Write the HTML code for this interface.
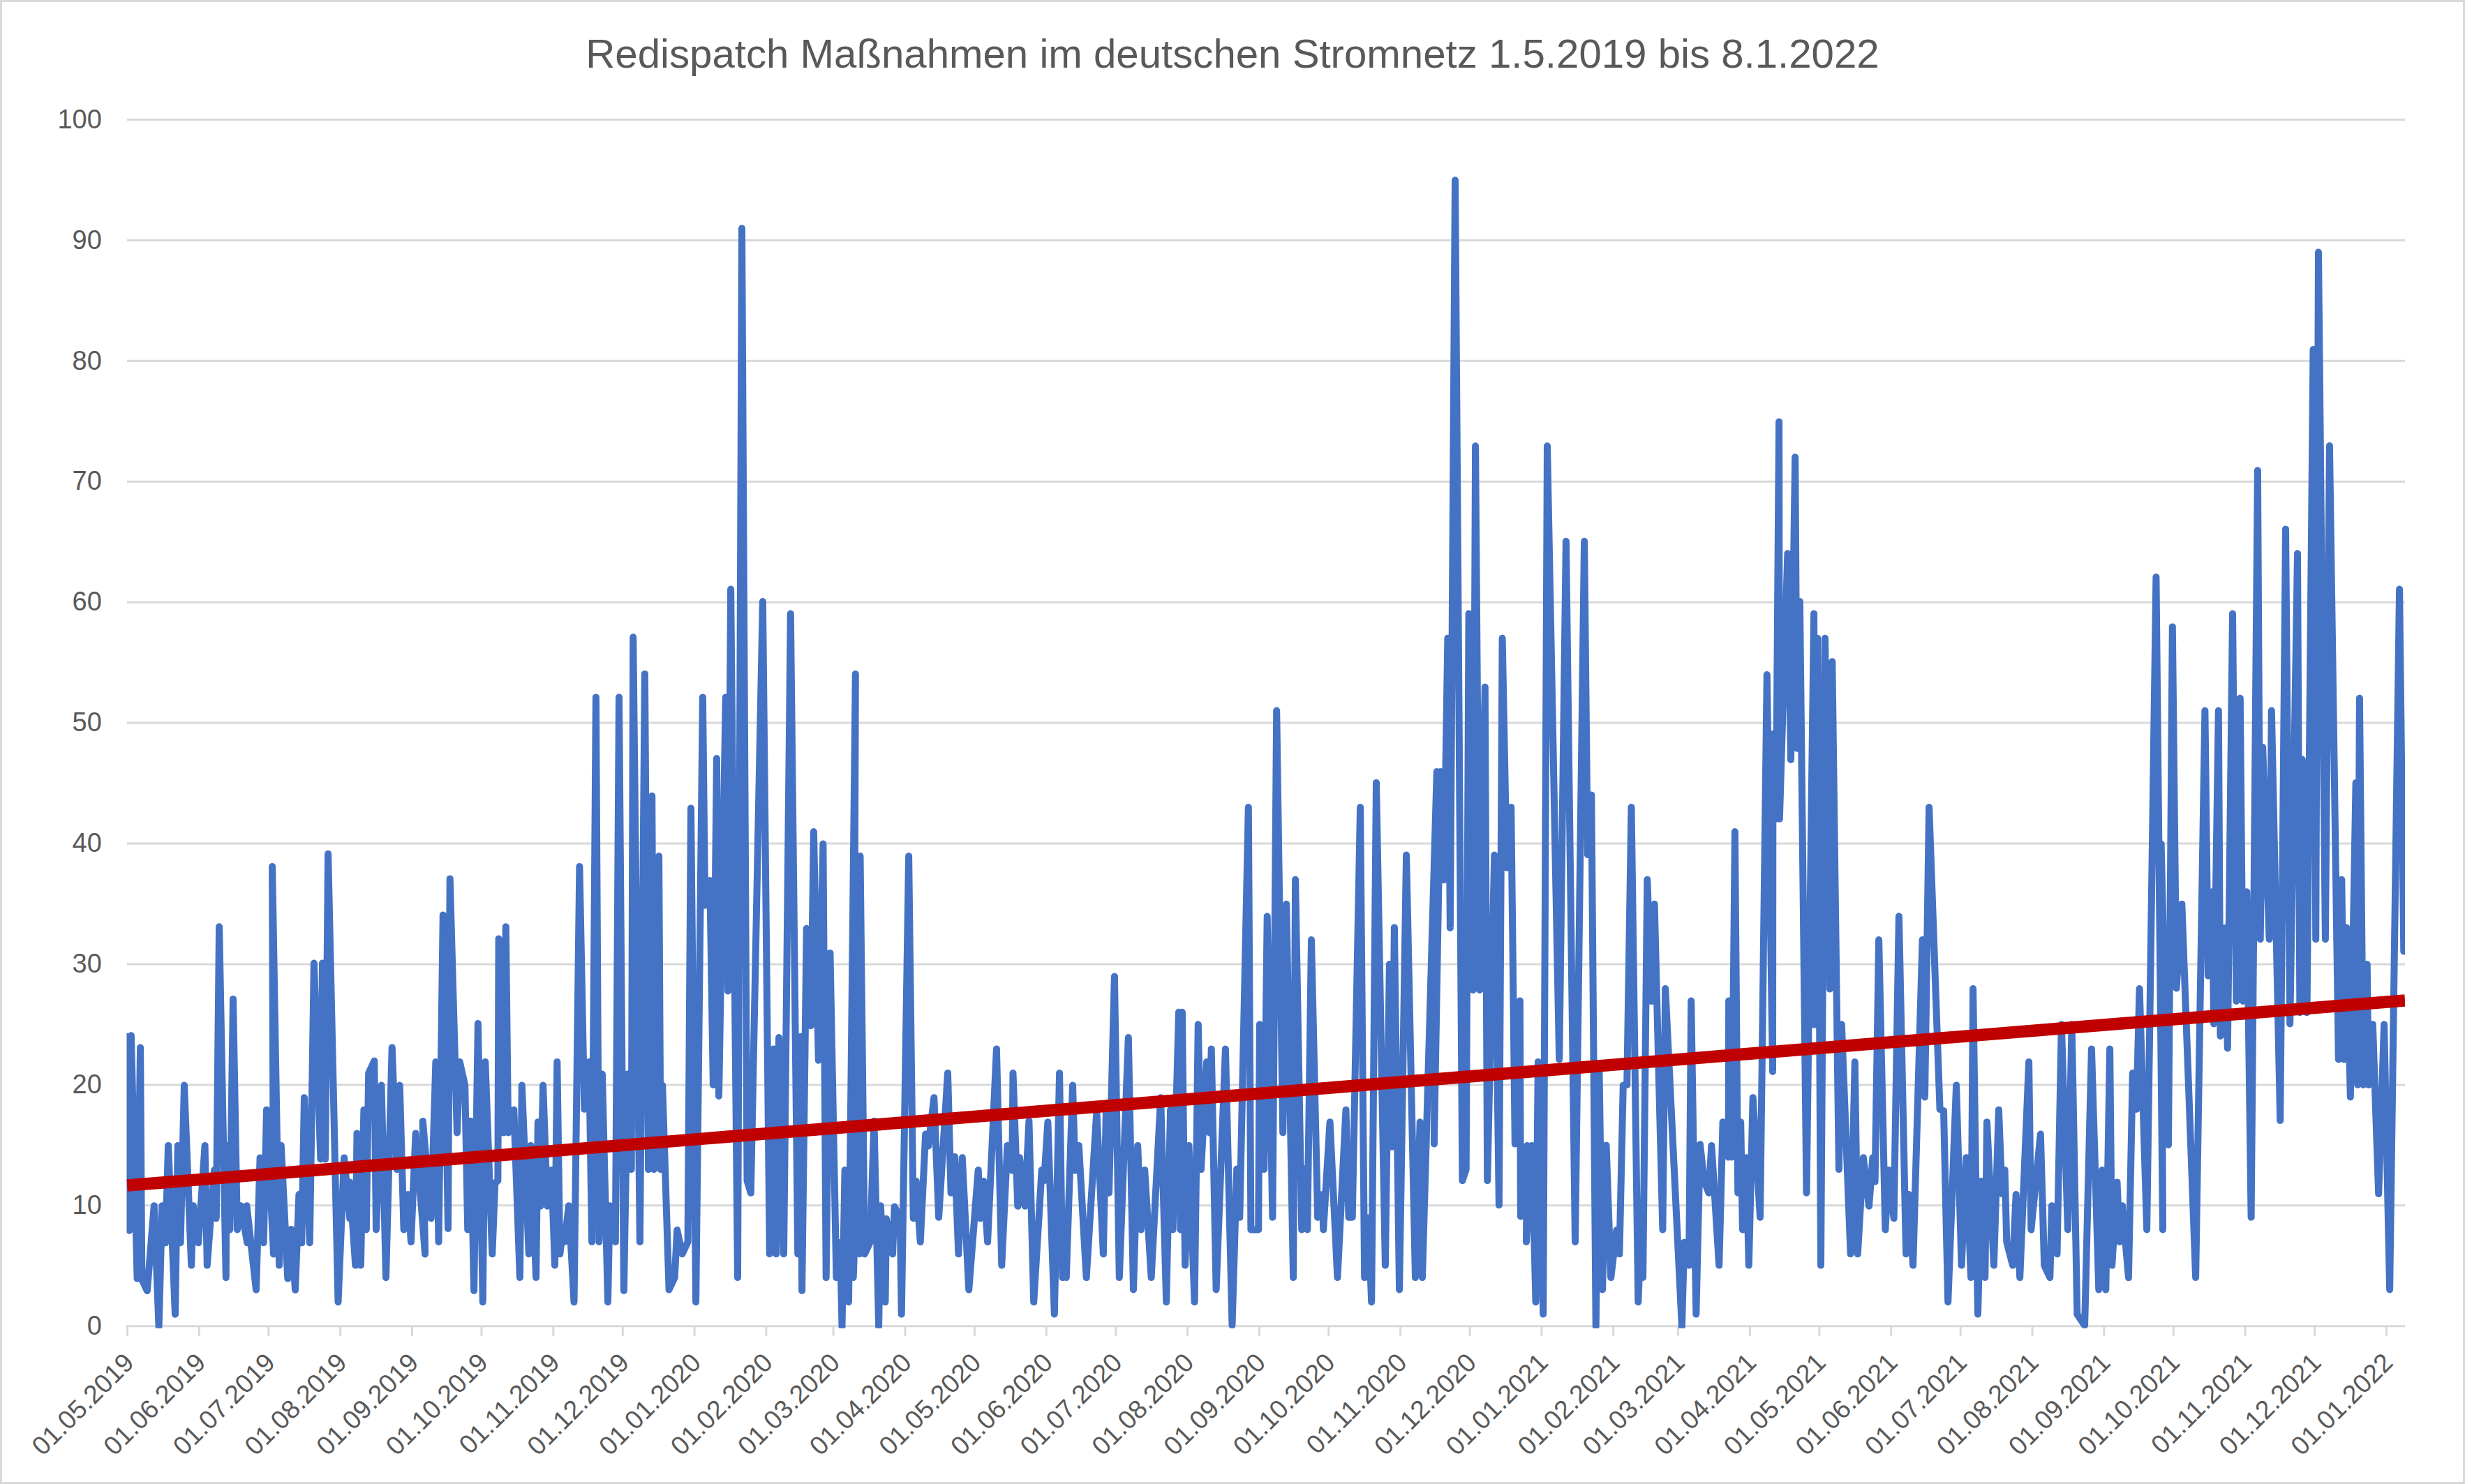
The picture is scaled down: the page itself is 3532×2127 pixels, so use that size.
<!DOCTYPE html><html><head><meta charset="utf-8"><style>html,body{margin:0;padding:0;background:#fff;overflow:hidden}svg{display:block}text{font-family:"Liberation Sans",sans-serif;fill:#595959}</style></head><body>
<svg width="3532" height="2127" viewBox="0 0 3532 2127">
<rect x="1.5" y="1.5" width="3529" height="2124" fill="#fff" stroke="#d9d9d9" stroke-width="3"/>
<text x="1766" y="96.8" font-size="58.2" text-anchor="middle">Redispatch Maßnahmen im deutschen Stromnetz 1.5.2019 bis 8.1.2022</text>
<path d="M182 1727.82H3446M182 1554.89H3446M182 1381.96H3446M182 1209.03H3446M182 1036.10H3446M182 863.17H3446M182 690.24H3446M182 517.31H3446M182 344.38H3446M182 171.45H3446" stroke="#d9d9d9" stroke-width="3" fill="none"/>
<text x="145.9" y="1913.0" font-size="38" text-anchor="end">0</text>
<text x="145.9" y="1740.0" font-size="38" text-anchor="end">10</text>
<text x="145.9" y="1567.1" font-size="38" text-anchor="end">20</text>
<text x="145.9" y="1394.2" font-size="38" text-anchor="end">30</text>
<text x="145.9" y="1221.2" font-size="38" text-anchor="end">40</text>
<text x="145.9" y="1048.3" font-size="38" text-anchor="end">50</text>
<text x="145.9" y="875.4" font-size="38" text-anchor="end">60</text>
<text x="145.9" y="702.4" font-size="38" text-anchor="end">70</text>
<text x="145.9" y="529.5" font-size="38" text-anchor="end">80</text>
<text x="145.9" y="356.6" font-size="38" text-anchor="end">90</text>
<text x="145.9" y="183.7" font-size="38" text-anchor="end">100</text>
<path d="M181 1900.75H3446M182.60 1900.75V1914.7M285.41 1900.75V1914.7M384.90 1900.75V1914.7M487.71 1900.75V1914.7M590.52 1900.75V1914.7M690.01 1900.75V1914.7M792.82 1900.75V1914.7M892.31 1900.75V1914.7M995.12 1900.75V1914.7M1097.93 1900.75V1914.7M1194.10 1900.75V1914.7M1296.91 1900.75V1914.7M1396.40 1900.75V1914.7M1499.21 1900.75V1914.7M1598.70 1900.75V1914.7M1701.51 1900.75V1914.7M1804.32 1900.75V1914.7M1903.81 1900.75V1914.7M2006.62 1900.75V1914.7M2106.11 1900.75V1914.7M2208.92 1900.75V1914.7M2311.73 1900.75V1914.7M2404.59 1900.75V1914.7M2507.40 1900.75V1914.7M2606.89 1900.75V1914.7M2709.70 1900.75V1914.7M2809.19 1900.75V1914.7M2912.00 1900.75V1914.7M3014.81 1900.75V1914.7M3114.30 1900.75V1914.7M3217.11 1900.75V1914.7M3316.60 1900.75V1914.7M3419.41 1900.75V1914.7" stroke="#d9d9d9" stroke-width="3" fill="none"/>
<text x="193.9" y="1955.3" font-size="37.5" text-anchor="end" transform="rotate(-45 193.9 1955.3)">01.05.2019</text>
<text x="296.7" y="1955.3" font-size="37.5" text-anchor="end" transform="rotate(-45 296.7 1955.3)">01.06.2019</text>
<text x="396.2" y="1955.3" font-size="37.5" text-anchor="end" transform="rotate(-45 396.2 1955.3)">01.07.2019</text>
<text x="499.0" y="1955.3" font-size="37.5" text-anchor="end" transform="rotate(-45 499.0 1955.3)">01.08.2019</text>
<text x="601.8" y="1955.3" font-size="37.5" text-anchor="end" transform="rotate(-45 601.8 1955.3)">01.09.2019</text>
<text x="701.3" y="1955.3" font-size="37.5" text-anchor="end" transform="rotate(-45 701.3 1955.3)">01.10.2019</text>
<text x="804.1" y="1955.3" font-size="37.5" text-anchor="end" transform="rotate(-45 804.1 1955.3)">01.11.2019</text>
<text x="903.6" y="1955.3" font-size="37.5" text-anchor="end" transform="rotate(-45 903.6 1955.3)">01.12.2019</text>
<text x="1006.4" y="1955.3" font-size="37.5" text-anchor="end" transform="rotate(-45 1006.4 1955.3)">01.01.2020</text>
<text x="1109.2" y="1955.3" font-size="37.5" text-anchor="end" transform="rotate(-45 1109.2 1955.3)">01.02.2020</text>
<text x="1205.4" y="1955.3" font-size="37.5" text-anchor="end" transform="rotate(-45 1205.4 1955.3)">01.03.2020</text>
<text x="1308.2" y="1955.3" font-size="37.5" text-anchor="end" transform="rotate(-45 1308.2 1955.3)">01.04.2020</text>
<text x="1407.7" y="1955.3" font-size="37.5" text-anchor="end" transform="rotate(-45 1407.7 1955.3)">01.05.2020</text>
<text x="1510.5" y="1955.3" font-size="37.5" text-anchor="end" transform="rotate(-45 1510.5 1955.3)">01.06.2020</text>
<text x="1610.0" y="1955.3" font-size="37.5" text-anchor="end" transform="rotate(-45 1610.0 1955.3)">01.07.2020</text>
<text x="1712.8" y="1955.3" font-size="37.5" text-anchor="end" transform="rotate(-45 1712.8 1955.3)">01.08.2020</text>
<text x="1815.6" y="1955.3" font-size="37.5" text-anchor="end" transform="rotate(-45 1815.6 1955.3)">01.09.2020</text>
<text x="1915.1" y="1955.3" font-size="37.5" text-anchor="end" transform="rotate(-45 1915.1 1955.3)">01.10.2020</text>
<text x="2017.9" y="1955.3" font-size="37.5" text-anchor="end" transform="rotate(-45 2017.9 1955.3)">01.11.2020</text>
<text x="2117.4" y="1955.3" font-size="37.5" text-anchor="end" transform="rotate(-45 2117.4 1955.3)">01.12.2020</text>
<text x="2220.2" y="1955.3" font-size="37.5" text-anchor="end" transform="rotate(-45 2220.2 1955.3)">01.01.2021</text>
<text x="2323.0" y="1955.3" font-size="37.5" text-anchor="end" transform="rotate(-45 2323.0 1955.3)">01.02.2021</text>
<text x="2415.9" y="1955.3" font-size="37.5" text-anchor="end" transform="rotate(-45 2415.9 1955.3)">01.03.2021</text>
<text x="2518.7" y="1955.3" font-size="37.5" text-anchor="end" transform="rotate(-45 2518.7 1955.3)">01.04.2021</text>
<text x="2618.2" y="1955.3" font-size="37.5" text-anchor="end" transform="rotate(-45 2618.2 1955.3)">01.05.2021</text>
<text x="2721.0" y="1955.3" font-size="37.5" text-anchor="end" transform="rotate(-45 2721.0 1955.3)">01.06.2021</text>
<text x="2820.5" y="1955.3" font-size="37.5" text-anchor="end" transform="rotate(-45 2820.5 1955.3)">01.07.2021</text>
<text x="2923.3" y="1955.3" font-size="37.5" text-anchor="end" transform="rotate(-45 2923.3 1955.3)">01.08.2021</text>
<text x="3026.1" y="1955.3" font-size="37.5" text-anchor="end" transform="rotate(-45 3026.1 1955.3)">01.09.2021</text>
<text x="3125.6" y="1955.3" font-size="37.5" text-anchor="end" transform="rotate(-45 3125.6 1955.3)">01.10.2021</text>
<text x="3228.4" y="1955.3" font-size="37.5" text-anchor="end" transform="rotate(-45 3228.4 1955.3)">01.11.2021</text>
<text x="3327.9" y="1955.3" font-size="37.5" text-anchor="end" transform="rotate(-45 3327.9 1955.3)">01.12.2021</text>
<text x="3430.7" y="1955.3" font-size="37.5" text-anchor="end" transform="rotate(-45 3430.7 1955.3)">01.01.2022</text>
<defs><clipPath id="c"><rect x="181.5" y="0" width="3264.5" height="1903.8"/></clipPath></defs>
<polyline clip-path="url(#c)" points="182.6,1485.7 185.3,1763.8 187.9,1484.3 196.6,1832.6 201.1,1501.5 203.3,1833.8 210.9,1850.1 220.8,1728.2 227.6,1901.3 232.3,1728.2 237.0,1781.3 241.1,1641.9 251.0,1883.8 254.8,1641.9 258.6,1781.3 264.0,1555.6 274.2,1813.6 276.9,1728.2 284.2,1781.3 293.6,1641.9 296.8,1813.6 307.1,1677.0 309.8,1746.3 314.1,1328.2 323.8,1831.2 324.6,1641.9 329.3,1762.4 334.0,1431.9 340.0,1762.4 344.8,1728.2 354.3,1781.3 353.5,1728.2 367.0,1848.7 372.6,1659.5 377.7,1781.3 382.0,1590.7 392.0,1797.5 390.1,1241.9 400.1,1813.6 402.8,1641.9 412.3,1832.6 417.1,1761.9 423.0,1848.7 428.4,1712.1 432.2,1781.3 436.0,1573.2 443.8,1781.3 449.9,1380.6 459.4,1661.4 462.0,1380.6 466.1,1661.4 470.1,1223.7 484.5,1866.2 493.1,1659.5 501.2,1746.3 501.2,1694.4 509.3,1813.6 511.5,1624.4 516.9,1813.6 521.4,1590.7 524.8,1762.4 528.2,1538.1 536.3,1520.6 539.0,1762.4 546.5,1555.6 553.0,1831.2 561.7,1501.5 568.6,1676.1 572.7,1555.6 578.6,1762.4 584.8,1712.1 588.9,1779.9 595.6,1624.4 609.1,1797.5 605.8,1606.9 617.7,1746.2 624.4,1521.9 628.5,1779.9 634.8,1311.4 642.0,1761.0 644.7,1259.4 654.9,1623.5 658.7,1521.9 666.2,1555.6 670.2,1762.4 674.3,1606.8 679.1,1849.9 684.9,1466.9 691.8,1866.2 695.3,1521.9 705.3,1797.3 709.3,1695.8 713.4,1692.2 714.6,1345.6 716.6,1623.5 718.8,1543.5 721.8,1623.5 724.8,1328.2 728.2,1623.5 736.3,1590.7 744.9,1831.1 747.8,1555.6 757.8,1797.3 760.5,1641.9 768.1,1831.1 770.8,1608.2 774.4,1728.7 778.1,1555.6 784.2,1728.7 790.2,1677.0 795.0,1813.6 798.3,1521.9 802.3,1797.3 806.3,1763.1 809.0,1779.9 815.0,1728.2 822.5,1866.2 830.4,1241.9 837.3,1589.8 844.1,1521.9 848.1,1779.9 853.9,999.4 858.4,1779.9 862.9,1539.5 871.0,1866.2 873.7,1728.2 881.8,1779.9 887.0,999.4 893.9,1849.9 899.3,1539.5 904.7,1676.1 907.2,913.3 916.9,1779.9 923.9,965.9 929.1,1676.1 934.2,1140.7 937.0,1676.1 944.1,1227.0 946.7,1676.1 949.2,1555.6 958.6,1848.5 966.7,1831.1 970.2,1763.1 977.5,1797.3 985.6,1779.9 990.0,1158.4 997.1,1866.2 1006.9,999.4 1010.2,1297.6 1017.2,1262.1 1021.9,1554.9 1026.9,1087.1 1030.0,1571.0 1039.8,999.4 1043.0,1420.4 1047.1,844.5 1057.0,1831.1 1063.0,327.3 1070.5,1692.2 1075.8,1709.8 1092.9,862.1 1102.8,1797.3 1108.5,1503.4 1112.3,1797.3 1116.1,1487.1 1123.0,1797.3 1132.8,879.6 1143.2,1797.3 1147.6,1485.7 1149.1,1849.9 1155.7,1330.8 1161.9,1470.2 1165.9,1192.1 1172.8,1519.8 1179.4,1209.5 1183.7,1831.1 1189.4,1365.9 1198.4,1831.1 1203.9,1780.7 1206.5,1901.1 1210.6,1677.0 1216.0,1866.2 1225.8,965.9 1222.7,1831.1 1230.8,1598.8 1231.6,1797.3 1232.5,1227.0 1238.9,1797.3 1247.0,1779.9 1252.4,1606.8 1259.1,1901.1 1261.8,1728.2 1268.5,1866.2 1269.9,1747.0 1279.0,1797.3 1281.7,1729.4 1289.8,1745.6 1291.7,1883.6 1302.1,1227.0 1308.7,1746.2 1312.7,1693.1 1318.7,1779.9 1326.2,1625.6 1330.2,1642.4 1338.3,1573.2 1345.1,1744.8 1358.0,1538.1 1362.6,1709.8 1368.0,1658.0 1373.4,1797.3 1378.8,1659.3 1388.2,1848.5 1401.7,1677.0 1404.4,1746.2 1409.2,1693.1 1415.1,1779.9 1427.9,1503.4 1435.3,1813.6 1443.4,1641.9 1450.2,1677.5 1451.5,1538.1 1458.3,1728.7 1460.9,1659.3 1468.5,1728.7 1474.4,1606.8 1481.2,1866.2 1492.7,1677.0 1496.0,1692.2 1501.4,1608.2 1510.8,1883.6 1518.1,1538.1 1522.5,1831.1 1527.0,1745.6 1527.8,1831.1 1537.0,1555.6 1540.5,1677.5 1545.8,1641.9 1556.6,1831.1 1571.4,1593.3 1580.9,1797.3 1584.9,1593.3 1589.0,1709.8 1596.9,1399.6 1603.8,1831.1 1616.8,1487.1 1624.0,1848.5 1630.2,1641.9 1634.8,1762.4 1640.2,1677.0 1649.6,1831.1 1663.1,1573.2 1671.2,1866.2 1677.1,1590.7 1680.6,1762.4 1689.0,1450.8 1691.5,1762.4 1693.9,1450.8 1698.1,1813.6 1703.5,1641.9 1711.6,1866.2 1716.8,1468.3 1721.0,1676.1 1729.1,1521.9 1733.1,1623.5 1735.7,1503.4 1742.6,1848.5 1755.9,1503.4 1765.5,1899.7 1772.2,1675.6 1776.3,1744.8 1788.8,1157.0 1792.4,1762.4 1803.2,1762.4 1804.9,1468.3 1811.3,1676.1 1815.7,1313.3 1823.4,1744.8 1829.2,1018.5 1838.2,1623.5 1843.2,1295.8 1853.1,1831.1 1856.1,1260.7 1865.2,1762.4 1869.3,1675.6 1873.3,1762.4 1879.0,1347.0 1888.1,1744.8 1894.9,1711.9 1896.2,1762.4 1905.6,1608.2 1916.4,1831.1 1928.5,1590.7 1932.6,1744.8 1937.7,1744.8 1949.1,1157.0 1955.2,1831.1 1960.6,1745.6 1965.2,1866.2 1972.0,1121.9 1984.9,1813.6 1990.9,1382.0 1994.8,1643.8 1997.9,1329.4 2005.1,1848.5 2015.1,1225.6 2028.0,1831.1 2034.7,1608.2 2038.0,1831.1 2058.8,1106.0 2054.9,1639.6 2064.2,1106.0 2069.0,1261.3 2074.4,914.7 2077.9,1329.9 2085.0,258.3 2095.4,1692.2 2100.7,1676.1 2104.6,879.6 2110.8,1419.0 2114.1,639.2 2120.2,1419.0 2127.8,984.7 2131.2,1692.2 2141.3,1225.6 2147.9,1727.3 2152.6,914.7 2159.0,1243.8 2165.2,1157.0 2170.8,1639.6 2177.9,1434.5 2178.9,1743.4 2188.3,1641.9 2187.0,1779.9 2195.1,1641.9 2200.5,1866.2 2203.9,1521.9 2211.2,1883.6 2217.0,639.2 2234.2,1518.4 2243.9,775.8 2257.0,1779.9 2270.1,775.8 2274.9,1224.9 2280.3,1139.5 2286.7,1901.1 2291.5,1537.6 2296.1,1848.5 2301.5,1641.4 2308.2,1831.1 2316.3,1763.1 2320.4,1797.3 2325.8,1555.6 2331.2,1554.9 2337.5,1157.0 2347.3,1866.2 2351.4,1761.7 2354.1,1831.1 2360.3,1260.7 2366.5,1435.0 2370.6,1295.8 2382.4,1762.4 2386.2,1417.1 2409.9,1901.1 2413.3,1780.7 2420.1,1813.6 2423.2,1434.5 2430.3,1883.6 2436.0,1640.3 2441.7,1692.2 2448.4,1709.8 2452.4,1641.9 2463.2,1813.6 2468.6,1608.2 2476.7,1658.6 2477.1,1434.5 2481.5,1658.6 2485.9,1192.1 2490.2,1709.8 2494.2,1608.2 2496.9,1762.4 2502.3,1659.3 2505.8,1813.6 2511.7,1573.2 2522.0,1744.8 2531.8,967.1 2540.0,1535.9 2540.4,1052.0 2544.8,1173.8 2549.1,604.5 2549.8,1173.8 2561.4,793.3 2566.0,1089.0 2572.2,655.3 2574.9,1072.8 2578.9,862.1 2588.5,1709.8 2599.1,879.6 2599.7,1468.8 2604.3,914.7 2609.0,1813.6 2615.0,914.7 2622.0,1417.6 2625.3,948.3 2634.9,1676.1 2638.8,1468.3 2651.6,1797.3 2657.8,1521.9 2661.8,1797.3 2669.9,1659.3 2678.0,1728.7 2683.4,1659.3 2686.6,1693.6 2692.1,1347.0 2701.4,1762.4 2706.0,1677.0 2713.6,1746.2 2720.9,1313.3 2731.1,1797.3 2734.6,1711.9 2741.1,1813.6 2754.6,1347.0 2758.0,1572.4 2764.1,1157.0 2779.6,1589.8 2785.0,1592.1 2791.2,1866.2 2803.1,1555.6 2810.6,1813.6 2817.3,1659.3 2824.1,1831.1 2827.1,1417.1 2834.0,1883.6 2838.9,1693.1 2844.3,1831.1 2847.0,1608.2 2856.9,1813.6 2863.9,1590.7 2868.6,1711.0 2872.6,1677.0 2875.3,1779.9 2883.9,1813.6 2888.7,1711.9 2894.2,1831.1 2907.1,1521.9 2910.3,1762.4 2923.8,1625.6 2929.2,1813.6 2937.3,1831.1 2940.0,1728.2 2947.5,1797.3 2953.8,1468.3 2962.9,1762.4 2968.6,1468.3 2976.3,1883.6 2987.1,1899.7 2996.9,1503.4 3007.3,1848.5 3012.2,1677.0 3017.3,1848.5 3023.1,1503.4 3026.2,1813.6 3033.5,1694.4 3037.0,1779.9 3041.0,1728.2 3049.9,1831.1 3055.8,1538.1 3061.2,1589.8 3065.6,1417.1 3076.1,1762.4 3089.4,827.0 3099.0,1762.4 3096.6,1209.5 3107.0,1641.0 3112.8,898.4 3118.5,1416.5 3126.3,1295.8 3146.1,1831.1 3159.4,1018.5 3164.0,1398.7 3169.8,1278.2 3172.1,1467.4 3178.8,1018.5 3181.5,1485.0 3188.0,1330.1 3191.8,1502.5 3199.0,879.6 3204.4,1435.0 3209.8,1000.8 3213.9,1435.0 3219.3,1278.2 3225.6,1744.8 3234.9,674.2 3238.7,1346.2 3242.1,1070.9 3251.6,1346.2 3254.8,1018.5 3267.2,1606.1 3275.0,758.4 3281.2,1467.4 3292.0,793.3 3295.4,1451.3 3298.8,1088.5 3305.5,1451.3 3314.5,500.9 3318.2,1346.2 3322.0,361.5 3331.9,1346.2 3337.9,639.1 3350.8,1518.4 3355.3,1260.7 3358.7,1518.4 3362.1,1329.4 3367.8,1572.4 3375.6,1121.9 3378.2,1554.9 3380.9,1000.8 3386.3,1554.9 3391.7,1382.0 3393.9,1554.9 3399.8,1468.3 3408.2,1711.0 3416.1,1468.3 3424.1,1848.5 3438.1,844.5 3444.3,1363.6" fill="none" stroke="#4472c4" stroke-width="10" stroke-linejoin="round" stroke-linecap="round"/>
<line clip-path="url(#c)" x1="182.1" y1="1699.1" x2="3446" y2="1434.0" stroke="#c00000" stroke-width="17.6"/>
</svg></body></html>
